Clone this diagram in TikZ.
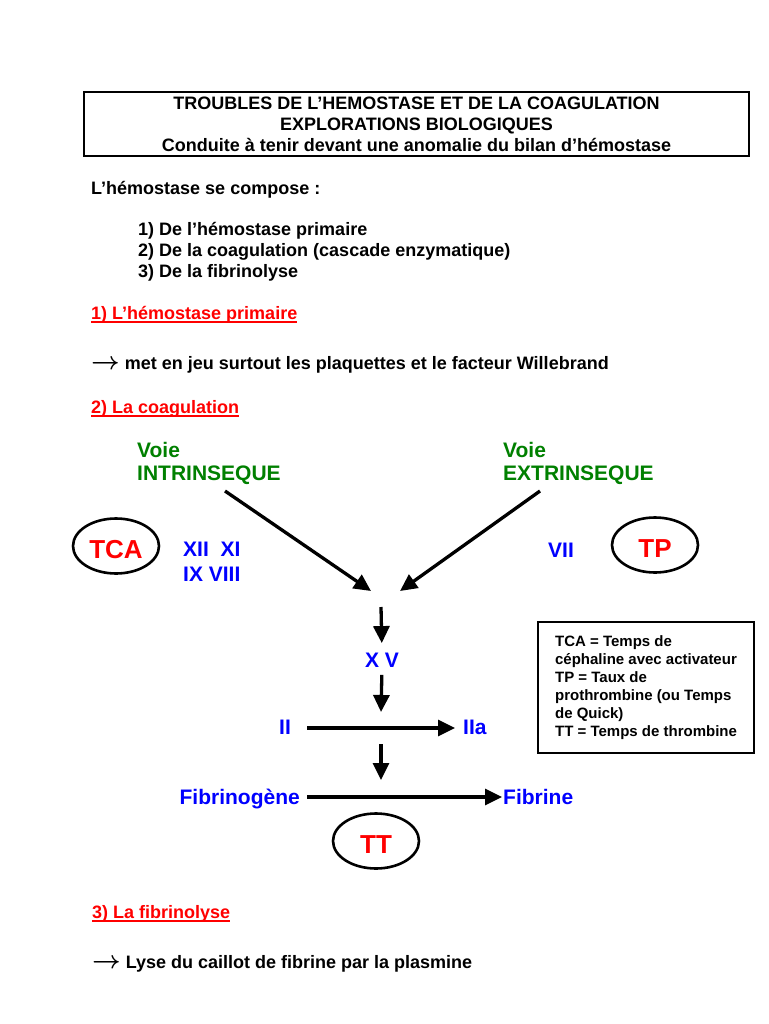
\documentclass[tikz,border=0pt]{standalone}
\usepackage{fontspec}
\setmainfont{Liberation Sans}
\usepackage{xcolor}
\usetikzlibrary{arrows.meta,shapes.geometric}
\definecolor{hred}{RGB}{255,0,0}
\definecolor{hblue}{RGB}{0,0,255}
\definecolor{hgreen}{RGB}{0,128,0}

\tikzset{
  txt/.style={anchor=base west, inner sep=0pt, font=\fontsize{18}{21}\selectfont\bfseries},
  big/.style={anchor=base west, inner sep=0pt, font=\fontsize{21}{24}\selectfont\bfseries},
  test/.style={ellipse, draw, line width=2.6pt, minimum width=86pt, minimum height=55pt,
    text height=24pt, text depth=0pt, text=hred, font=\fontsize{26}{26}\selectfont\bfseries},
  flow/.style={line width=3.3pt, -{Triangle[length=17pt,width=16pt]}},
  uline/.style={hred, line width=1.3pt}
}
\newcommand{\tto}{{\fontsize{25}{25}\selectfont\boldmath$\rightarrow$}\hspace{5pt}}

\begin{document}
\begin{tikzpicture}[x=1pt, y=-1pt]
  \fill[white] (0,0) rectangle (768,1024);
  \useasboundingbox (0,0) rectangle (768,1024);
  % title box
  \node[draw, line width=1.2pt, minimum width=665pt, minimum height=64pt, align=center,
    font=\fontsize{18}{21}\selectfont\bfseries] (title) at (416.5,124)
    {TROUBLES DE L’HEMOSTASE ET DE LA COAGULATION\\EXPLORATIONS BIOLOGIQUES\\
     Conduite à tenir devant une anomalie du bilan d’hémostase};
  \node[txt] (intro) at (91,195) {L’hémostase se compose :};
  \foreach \y/\lab [count=\i] in {235.5/De l’hémostase primaire,
      256.5/De la coagulation (cascade enzymatique), 277.5/De la fibrinolyse}
    \node[txt] (item\i) at (138,\y) {\i) \lab};
  \node[txt, text=hred] (h1) at (91,319.5) {1) L’hémostase primaire};
  \draw[uline] ([yshift=-2.5pt]h1.base west) -- ([yshift=-2.5pt]h1.base east);
  \node[txt] (prim) at (91,369.5) {\tto met en jeu surtout les plaquettes et le facteur Willebrand};
  \node[txt, text=hred] (h2) at (91,413.5) {2) La coagulation};
  \draw[uline] ([yshift=-2.5pt]h2.base west) -- ([yshift=-2.5pt]h2.base east);

  % the two pathways
  \node[big, text=hgreen] (voieI) at (137,457.5) {Voie};
  \node[big, text=hgreen] (intr) at (137,480.5) {INTRINSEQUE};
  \node[big, text=hgreen] (voieE) at (503,457.5) {Voie};
  \node[big, text=hgreen] (extr) at (503,480.5) {EXTRINSEQUE};
  \coordinate (intrA) at (225,491);
  \coordinate (extrA) at (540,491);
  \coordinate (meetL) at (371,591);
  \coordinate (meetR) at (400,591);
  \draw[flow] (intrA) -- (meetL);
  \draw[flow] (extrA) -- (meetR);

  \node[test] (tca) at (116,546) {TCA};
  \node[test] (tp) at (655,545) {TP};
  \node[big, text=hblue] (f12) at (183,556.5) {XII\ \ XI};
  \node[big, text=hblue] (f9) at (183,581.5) {IX VIII};
  \node[big, text=hblue] (f7) at (548,557.5) {VII};

  % common pathway
  \coordinate (top) at (381,607);
  \coordinate (c2) at (381,728);
  \coordinate (c3) at (381,797);
  \node[big, anchor=center, text=hblue] (xv) at (382,660) {X V};
  \draw[flow, shorten >=9.5pt] (top) -- (xv.north);
  \draw[flow, shorten <=7.5pt] (xv.south) -- ([yshift=16pt]c2);
  \node[big, text=hblue] (ii) at (279,734.5) {II};
  \node[big, text=hblue] (iia) at (463,734.5) {IIa};
  \draw[flow, shorten <=16pt, shorten >=8pt] (ii.east |- c2) -- (iia.west |- c2);
  \draw[flow] ([yshift=-16pt]c2) -- ([yshift=17pt]c3);
  \node[big, anchor=base east, text=hblue] (fbg) at (300,804.5) {Fibrinogène};
  \node[big, text=hblue] (fib) at (503,804.5) {Fibrine};
  \draw[flow, shorten <=7pt, shorten >=1pt] (fbg.east |- c3) -- (fib.west |- c3);
  \node[test] (tt) at (376,841) {TT};

  % legend
  \node[draw, line width=2pt, minimum width=216pt, minimum height=131pt, align=left,
    font=\fontsize{15}{18}\selectfont\bfseries] (legend) at (646,687.5)
    {TCA = Temps de\\céphaline avec activateur\\TP = Taux de\\prothrombine (ou Temps\\de Quick)\\TT = Temps de thrombine};

  \node[txt, text=hred] (h3) at (92,918.5) {3) La fibrinolyse};
  \draw[uline] ([yshift=-2.5pt]h3.base west) -- ([yshift=-2.5pt]h3.base east);
  \node[txt] (lyse) at (92,968.5) {\tto Lyse du caillot de fibrine par la plasmine};
\end{tikzpicture}
\end{document}
